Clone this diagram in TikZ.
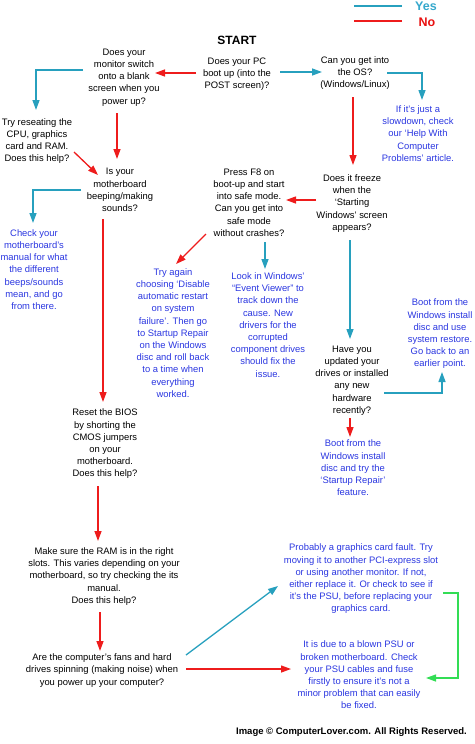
\documentclass[tikz,border=0pt]{standalone}
\usepackage{fontspec}
\setmainfont{Liberation Sans}
\usetikzlibrary{arrows.meta}
\definecolor{tealC}{HTML}{27A0BE}
\definecolor{yesC}{HTML}{36A8CC}
\definecolor{redC}{HTML}{EE1C1C}
\definecolor{noC}{HTML}{E81010}
\definecolor{greenC}{HTML}{33DD55}
\definecolor{blueT}{HTML}{2A36E0}
\begin{document}
\begin{tikzpicture}[x=1pt,y=-1pt,
  q/.style={font=\fontsize{9.4}{12.2}\selectfont, align=center, inner sep=0pt, text=black},
  ans/.style={q, text=blueT},
  yesarrow/.style={draw=tealC, line width=1.3pt, -{Triangle[length=10pt,width=7pt]}},
  noarrow/.style={draw=redC, line width=1.3pt, -{Triangle[length=10pt,width=7pt]}},
  grarrow/.style={draw=greenC, line width=1.3pt, -{Triangle[length=10pt,width=7pt]}},
  legline/.style={line width=1.3pt}]
\useasboundingbox (0,0) rectangle (474,744);

% legend
\node[font=\fontsize{12.5}{14}\selectfont\bfseries, text=yesC, inner sep=0pt] (yesL) at (426,6.5) {Yes};
\node[font=\fontsize{12.5}{14}\selectfont\bfseries, text=noC, inner sep=0pt] (noL) at (427,22) {No};
\draw[legline, draw=tealC] ([shift={(-24,-0.5)}]yesL.center) -- ++(-48,0);
\draw[legline, draw=redC] ([shift={(-25,-1)}]noL.center) -- ++(-48,0);

\node[font=\fontsize{12}{14}\selectfont\bfseries, inner sep=0pt] (start) at (237,40) {START};

% questions
\node[q] (boot) at (237,74) {Does your PC\\boot up (into the\\POST screen)?};
\node[q] (monitor) at (124,77.5) {Does your\\monitor switch\\onto a blank\\screen when you\\power up?};
\node[q] (os) at (355,73) {Can you get into\\the OS?\\(Windows/Linux)};
\node[ans] (slow) at (418,133.5) {If it’s just a\\slowdown, check\\our ‘Help With\\Computer\\Problems’ article.};
\node[q] (reseat) at (37,141) {Try reseating the\\CPU, graphics\\card and RAM.\\Does this help?};
\node[q] (beep) at (120,190) {Is your\\motherboard\\beeping/making\\sounds?};
\node[ans] (manual) at (34,269.5) {Check your\\motherboard’s\\manual for what\\the different\\beeps/sounds\\mean, and go\\from there.};
\node[q] (freeze) at (352,203.5) {Does it freeze\\when the\\‘Starting\\Windows’ screen\\appears?};
\node[q] (f8) at (249,202.5) {Press F8 on\\boot-up and start\\into safe mode.\\Can you get into\\safe mode\\without crashes?};
\node[ans] (again) at (173,333) {Try again\\choosing ‘Disable\\automatic restart\\on system\\failure’. Then go\\to Startup Repair\\on the Windows\\disc and roll back\\to a time when\\everything\\worked.};
\node[ans] (event) at (268,325) {Look in Windows’\\“Event Viewer” to\\track down the\\cause. New\\drivers for the\\corrupted\\component drives\\should fix the\\issue.};
\node[q] (updated) at (352,380.5) {Have you\\updated your\\drives or installed\\any new\\hardware\\recently?};
\node[ans] (restore) at (440,334) {Boot from the\\Windows install\\disc and use\\system restore.\\Go back to an\\earlier point.};
\node[ans] (repair) at (353,468) {Boot from the\\Windows install\\disc and try the\\‘Startup Repair’\\feature.};
\node[q] (bios) at (105,444) {Reset the BIOS\\by shorting the\\CMOS jumpers\\on your\\motherboard.\\Does this help?};
\node[q] (ram) at (104,576.5) {Make sure the RAM is in the right\\slots. This varies depending on your\\motherboard, so try checking the its\\manual.\\Does this help?};
\node[q] (fans) at (102,670.5) {Are the computer’s fans and hard\\drives spinning (making noise) when\\you power up your computer?};
\node[ans] (gpu) at (361,579) {Probably a graphics card fault. Try\\moving it to another PCI-express slot\\or using another monitor. If not,\\either replace it. Or check to see if\\it’s the PSU, before replacing your\\graphics card.};
\node[ans] (psu) at (359,675) {It is due to a blown PSU or\\broken motherboard. Check\\your PSU cables and fuse\\firstly to ensure it’s not a\\minor problem that can easily\\be fixed.};

\node[font=\fontsize{9.5}{12}\selectfont\bfseries, inner sep=0pt, anchor=east] (footer) at (467,732) {Image © ComputerLover.com. All Rights Reserved.};

% connectors
\draw[noarrow] ([shift={(-41,-1)}]boot.center) -- ([shift={(31,-4.5)}]monitor.center);
\draw[yesarrow] ([shift={(43,-2)}]boot.center) -- ([shift={(-33,-1)}]os.center);
\draw[yesarrow] ([shift={(-41,-7.5)}]monitor.center) -| ([shift={(-1,-31)}]reseat.center);
\draw[yesarrow] ([shift={(32,0)}]os.center) -| ([shift={(4,-33.5)}]slow.center);
\draw[noarrow] ([shift={(-7,35.5)}]monitor.center) -- ([shift={(-3,-31)}]beep.center);
\draw[noarrow] ([shift={(37,11)}]reseat.center) -- ([shift={(-22,-15)}]beep.center);
\draw[yesarrow] ([shift={(-39,0)}]beep.center) -| ([shift={(-1,-46.5)}]manual.center);
\draw[noarrow] ([shift={(-17,29)}]beep.center) -- ([shift={(-2,-42)}]bios.center);
\draw[noarrow] ([shift={(-2,24)}]os.center) -- ([shift={(1,-38.5)}]freeze.center);
\draw[noarrow] ([shift={(-36,-3.5)}]freeze.center) -- ([shift={(37,-2.5)}]f8.center);
\draw[noarrow] ([shift={(-43,31.5)}]f8.center) -- ([shift={(3,-69)}]again.center);
\draw[yesarrow] ([shift={(16,39.5)}]f8.center) -- ([shift={(-3,-56)}]event.center);
\draw[yesarrow] ([shift={(-2,36.5)}]freeze.center) -- ([shift={(-2,-41.5)}]updated.center);
\draw[yesarrow] ([shift={(32,12.5)}]updated.center) -| ([shift={(2,38)}]restore.center);
\draw[noarrow] ([shift={(-2,37.5)}]updated.center) -- ([shift={(-3,-31)}]repair.center);
\draw[noarrow] ([shift={(-7,42)}]bios.center) -- ([shift={(-6,-35.5)}]ram.center);
\draw[noarrow] ([shift={(-4,35.5)}]ram.center) -- ([shift={(-2,-19.5)}]fans.center);
\draw[noarrow] ([shift={(84,-1.5)}]fans.center) -- ([shift={(-68,-6)}]psu.center);
\draw[yesarrow] ([shift={(84,-15.5)}]fans.center) -- ([shift={(-83,7)}]gpu.center);
\draw[grarrow] ([shift={(82,14)}]gpu.center) -- ++(15,0) |- ([shift={(67,3)}]psu.center);
\end{tikzpicture}
\end{document}
